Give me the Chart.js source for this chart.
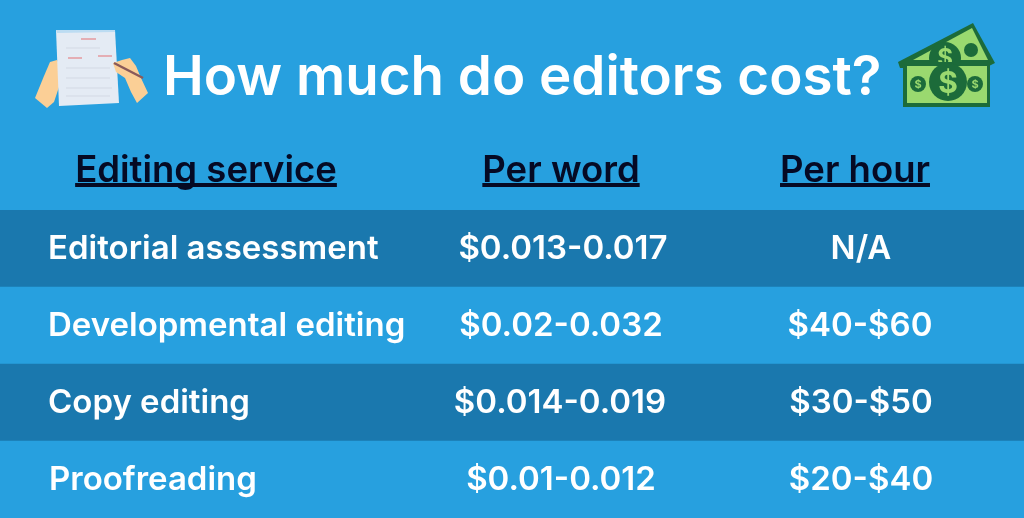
<!DOCTYPE html>
<html>
<head>
<meta charset="utf-8">
<style>
  html, body { margin: 0; padding: 0; background: #27a0df; }
  #wrap { position: relative; width: 1024px; height: 518px; }
</style>
<script src="https://cdn.jsdelivr.net/npm/chart.js@4"></script>
</head>
<body>
<div id="wrap"><canvas id="myChart" width="1024" height="518"></canvas></div>
<script>
const services = ["Editorial assessment", "Developmental editing", "Copy editing", "Proofreading"];
const perWord = ["$0.013-0.017", "$0.02-0.032", "$0.014-0.019", "$0.01-0.012"];
const perHour = ["N/A", "$40-$60", "$30-$50", "$20-$40"];
const headers = ["Editing service", "Per word", "Per hour"];
const title = "How much do editors cost?";
const bandValues = [1, 1, 1, 1];

// text in the reference is not quite aligned from row to row
const serviceX = [48, 48, 48, 49];
const wordX = [563, 561, 560, 561];
const hourX = [861, 860, 861, 861];
const headerX = [206, 561, 855];

function poly(ctx, pts, fill) {
  ctx.fillStyle = fill;
  ctx.beginPath();
  pts.forEach((p, i) => (i ? ctx.lineTo(p[0], p[1]) : ctx.moveTo(p[0], p[1])));
  ctx.closePath();
  ctx.fill();
}

function circle(ctx, x, y, r, fill) {
  ctx.fillStyle = fill;
  ctx.beginPath();
  ctx.arc(x, y, r, 0, Math.PI * 2);
  ctx.fill();
}

function drawPaperIcon(ctx) {
  // left hand
  poly(ctx, [[35, 98], [44, 76], [50, 62], [57, 60], [63, 72], [60, 84], [57, 93], [54, 102], [47, 108]], "#fbcf96");
  // sheet
  poly(ctx, [[56, 30], [115, 30], [119, 103], [59, 106]], "#e4ebf4");
  poly(ctx, [[56, 30], [115, 30], [115, 32], [57, 33]], "#bcdcf2");
  ctx.strokeStyle = "#d3d9e4";
  ctx.lineWidth = 1;
  [[66, 48, 100, 48], [66, 68, 110, 68], [66, 78, 110, 78], [66, 88, 112, 88], [66, 96, 110, 96]].forEach((l) => {
    ctx.beginPath();
    ctx.moveTo(l[0], l[1]);
    ctx.lineTo(l[2], l[3]);
    ctx.stroke();
  });
  ctx.strokeStyle = "#e59a9f";
  ctx.lineWidth = 1.5;
  [[81, 39, 96, 39], [68, 58, 82, 58], [98, 56, 112, 56]].forEach((l) => {
    ctx.beginPath();
    ctx.moveTo(l[0], l[1]);
    ctx.lineTo(l[2], l[3]);
    ctx.stroke();
  });
  // right hand and pen
  poly(ctx, [[113, 63], [122, 60], [130, 58], [136, 66], [141, 78], [148, 93], [137, 103], [131, 92], [125, 78], [116, 72]], "#fbcf96");
  ctx.strokeStyle = "#8a5a5a";
  ctx.lineWidth = 2.5;
  ctx.beginPath();
  ctx.moveTo(114, 63);
  ctx.lineTo(143, 78);
  ctx.stroke();
}

function drawBill(ctx) {
  const dark = "#1c6b3a";
  const light = "#9ad96f";
  // back bill
  poly(ctx, [[898, 62], [973, 23], [995, 63], [985, 68], [900, 68]], dark);
  poly(ctx, [[913, 60], [972, 28], [988, 60]], light);
  circle(ctx, 971, 50, 7, dark);
  circle(ctx, 945, 58, 16, dark);
  ctx.fillStyle = light;
  ctx.textAlign = "center";
  ctx.textBaseline = "alphabetic";
  ctx.font = "700 24px Inter, sans-serif";
  ctx.fillText("$", 945, 66);
  // front bill
  ctx.fillStyle = dark;
  ctx.fillRect(903, 62, 87, 45);
  ctx.fillStyle = light;
  ctx.fillRect(907, 66, 80, 37);
  circle(ctx, 948, 82, 19, dark);
  circle(ctx, 918, 84, 8, dark);
  circle(ctx, 975, 84, 8, dark);
  ctx.fillStyle = light;
  ctx.font = "700 30px Inter, sans-serif";
  ctx.fillText("$", 948, 93);
  ctx.font = "700 11px Inter, sans-serif";
  ctx.fillText("$", 918, 88);
  ctx.fillText("$", 975, 88);
}

const tableText = {
  id: "tableText",
  afterDatasetsDraw(chart) {
    const ctx = chart.ctx;
    const y = chart.scales.y;
    ctx.save();
    ctx.textBaseline = "alphabetic";

    // title
    ctx.fillStyle = "#ffffff";
    ctx.textAlign = "left";
    ctx.font = "600 54.7px Inter, sans-serif";
    ctx.fillText(title, 163, 95);

    // column heads, underlined
    ctx.fillStyle = "#050a24";
    ctx.font = "600 36.5px Inter, sans-serif";
    headerX.forEach((x, i) => {
      ctx.textAlign = "center";
      ctx.fillText(headers[i], x, 182);
      const w = ctx.measureText(headers[i]).width;
      ctx.fillRect(x - w / 2, 183, w, 4);
    });

    // rows
    ctx.fillStyle = "#ffffff";
    ctx.font = "600 33px Inter, sans-serif";
    services.forEach((s, i) => {
      const py = y.getPixelForValue(i) + 10;
      ctx.textAlign = "left";
      ctx.fillText(s, serviceX[i], py);
      ctx.textAlign = "center";
      ctx.fillText(perWord[i], wordX[i], py);
      ctx.fillText(perHour[i], hourX[i], py);
    });

    drawPaperIcon(ctx);
    drawBill(ctx);
    ctx.restore();
  },
};

new Chart(document.getElementById("myChart").getContext("2d"), {
  type: "bar",
  data: {
    labels: services,
    datasets: [{
      data: bandValues,
      backgroundColor: ["#1a78ae", "#27a0df", "#1a78ae", "#27a0df"],
      barPercentage: 1,
      categoryPercentage: 1,
    }],
  },
  options: {
    indexAxis: "y",
    responsive: false,
    animation: false,
    layout: { padding: { top: 210 } },
    scales: {
      x: { display: false, min: 0, max: 1 },
      y: { display: false },
    },
    plugins: { legend: { display: false }, tooltip: { enabled: false } },
  },
  plugins: [tableText],
});
</script>
</body>
</html>
